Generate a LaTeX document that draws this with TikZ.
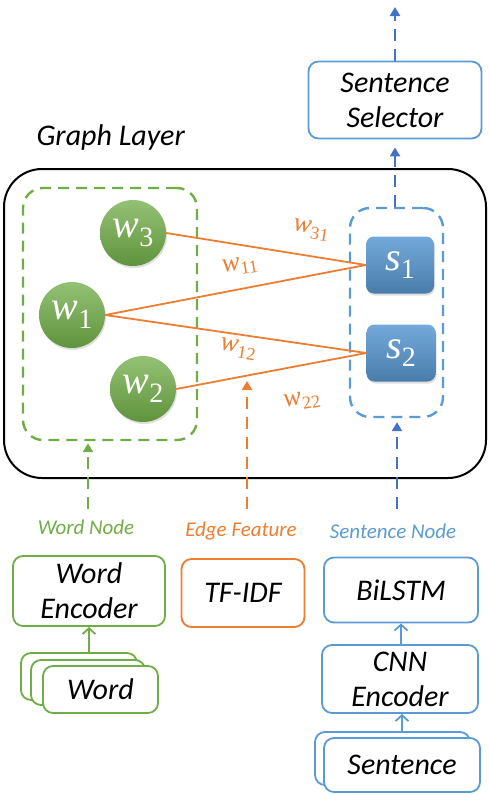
\documentclass[tikz,border=0pt]{standalone}
\usepackage{fontspec}
\setmainfont{Carlito}
\newfontfamily\symfont{Liberation Serif}
\usetikzlibrary{arrows.meta,shadows}
\definecolor{cgreen}{HTML}{70AD47}
\definecolor{corange}{HTML}{ED7D31}
\definecolor{cblue}{HTML}{5B9BD5}
\definecolor{cdblue}{HTML}{4472C4}
\newcommand\nsym[2]{{\symfont\fontsize{40}{42}\selectfont\itshape #1}{\symfont\fontsize{28}{30}\selectfont\raisebox{-0.3em}{#2}}}
\newcommand\esym[2]{{\symfont\fontsize{27}{29}\selectfont\itshape #1}{\symfont\fontsize{18}{20}\selectfont\raisebox{-0.3em}{#2}}}
\begin{document}
\begin{tikzpicture}[x=1pt,y=-1pt,
  txt/.style={font=\fontsize{30}{35}\selectfont\itshape, align=center},
  lbl/.style={font=\fontsize{21}{25}\selectfont\itshape},
  box/.style={draw, line width=1.8pt, rounded corners=10pt, inner sep=0pt, fill=white, txt},
  grp/.style={draw, line width=2.4pt, rounded corners=20pt, dash pattern=on 11pt off 7pt, inner sep=0pt},
  wnode/.style={circle, minimum size=66pt, inner sep=0pt, top color=cgreen!75!white, bottom color=cgreen!85!black, draw=none, text=white, drop shadow={opacity=0.25, shadow xshift=1pt, shadow yshift=-2pt}},
  snode/.style={rounded corners=8pt, inner sep=0pt, top color=cblue!85!white, bottom color=cblue!80!black, text=white, drop shadow={opacity=0.25, shadow xshift=1pt, shadow yshift=-2pt}},
  edge/.style={corange, line width=1.8pt},
  elbl/.style={text=corange, inner sep=0pt},
  darr/.style={line width=2.6pt, dash pattern=on 12pt off 8pt, -{Triangle[length=9pt,width=10pt]}},
  sarr/.style={line width=1.8pt, -{Straight Barb[length=6pt,width=13pt,line width=1.8pt]}}
]
\useasboundingbox (0,0) rectangle (488,795);

% Graph layer
\node[txt, anchor=west] (gl) at (33,138) {Graph Layer};
\node[draw, line width=2pt, rounded corners=38pt, minimum width=482pt, minimum height=309pt, inner sep=0pt] (graph) at (245,323.5) {};

% groups
\node[grp, draw=cgreen, minimum width=174pt, minimum height=252pt] (wgroup) at (110,314) {};
\node[grp, draw=cblue, minimum width=93pt, minimum height=209pt] (sgroup) at (396.5,312.5) {};

% word nodes
\node[wnode] (w3) at (133,233) {\nsym{w}{3}};
\node[wnode] (w1) at (72,315) {\nsym{w}{1}};
\node[wnode] (w2) at (143,389) {\nsym{w}{2}};

% sentence nodes
\node[snode, minimum width=68pt, minimum height=57pt] (s1) at (400,265) {\nsym{s}{1}};
\node[snode, minimum width=69pt, minimum height=57pt] (s2) at (401,353) {\nsym{s}{2}};

% edges
\draw[edge] (w3.east) -- (s1.west);
\draw[edge] (w1.east) -- (s1.west);
\draw[edge] (w1.east) -- (s2.west);
\draw[edge] (w2.east) -- (s2.west);
\node[elbl, rotate=-9] (l31) at (311,230) {\esym{w}{31}};
\node[elbl, rotate=9] (l11) at (240,266) {\esym{w}{11}};
\node[elbl, rotate=-9] (l12) at (238,349) {\esym{w}{12}};
\node[elbl, rotate=11] (l22) at (302,401) {\esym{w}{22}};

% sentence selector
\node[box, draw=cblue, minimum width=173pt, minimum height=77pt] (sel) at (395,100) {Sentence\\Selector};
\coordinate (top) at (395,7);
\draw[darr, cdblue, shorten >=8pt] (sgroup.north -| sel.south) -- (sel.south);
\draw[darr, cdblue] (sel.north) -- (top);

% labels
\node[lbl, text=cgreen] (wnl) at (86,527) {Word Node};
\node[lbl, text=corange] (efl) at (241,531) {Edge Feature};
\node[lbl, text=cblue] (snl) at (393,531) {Sentence Node};

\coordinate (ga) at (88,509);
\coordinate (oa) at (247,509);
\coordinate (ba) at (397,509);
\coordinate (ot) at (247,381);
\draw[darr, cgreen, shorten >=2pt] (ga) -- (ga |- wgroup.south);
\draw[darr, corange] (oa) -- (ot);
\draw[darr, cdblue, shorten >=4pt] (ba) -- (ba |- sgroup.south);

% bottom boxes
\node[box, draw=cgreen, minimum width=152pt, minimum height=70pt] (wenc) at (89,591) {Word\\Encoder};
\node[box, draw=corange, minimum width=123pt, minimum height=68pt] (tfidf) at (243,593) {TF-IDF};
\node[box, draw=cblue, minimum width=154pt, minimum height=65pt] (bilstm) at (401,590) {BiLSTM};
\node[box, draw=cblue, minimum width=156pt, minimum height=68pt] (cnn) at (400,679) {CNN\\Encoder};

\node[box, draw=cgreen, minimum width=116pt, minimum height=47pt] (wordA) at (79,676.5) {};
\node[box, draw=cgreen, minimum width=114pt, minimum height=45pt] (wordB) at (88,682.5) {};
\node[box, draw=cgreen, minimum width=115pt, minimum height=47pt] (wordC) at (100.5,689.5) {Word};

\node[box, draw=cblue, minimum width=155pt, minimum height=53pt] (sentA) at (392.5,758.5) {};
\node[box, draw=cblue, minimum width=156pt, minimum height=54pt] (sentB) at (402,765) {Sentence};

\draw[sarr, cgreen] (wordA.north -| wenc.south) -- (wenc.south);
\draw[sarr, cblue] (cnn.north -| bilstm.south) -- (bilstm.south);
\draw[sarr, cblue] (sentA.north -| sentB.north) -- (sentB.north |- cnn.south);
\end{tikzpicture}
\end{document}
